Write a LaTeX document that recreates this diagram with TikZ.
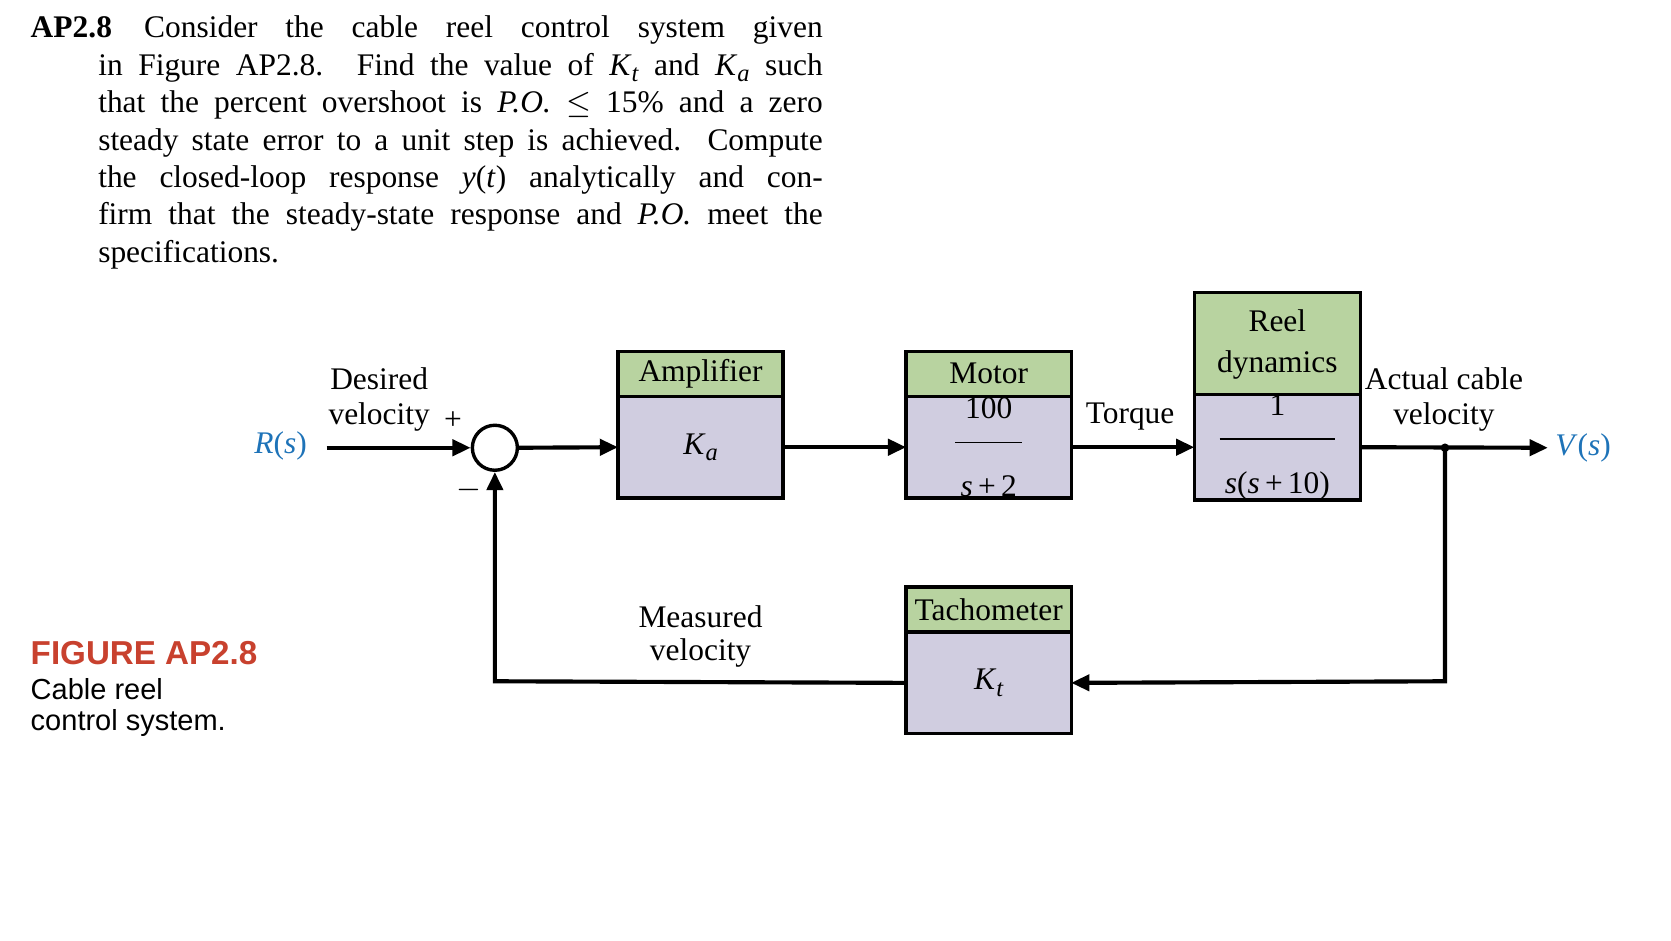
\documentclass[tikz,border=0pt]{standalone}
\usepackage{fontspec}
\setmainfont{Liberation Serif}
\newfontfamily\sansf{Liberation Sans}
\usetikzlibrary{arrows.meta}
\definecolor{hdr}{HTML}{B8D3A0}
\definecolor{bod}{HTML}{D0CDE0}
\definecolor{blu}{HTML}{1E73B8}
\definecolor{redf}{HTML}{C8412E}
\newcommand{\ii}[1]{\textit{#1}}
\newcommand{\sbi}[1]{\raisebox{-0.45ex}{\fontsize{6.5}{7}\selectfont\itshape #1}}
\newcommand{\fr}[2]{$\displaystyle\frac{\rule[-5pt]{0pt}{0pt}\mbox{#1}}{\rule{0pt}{13pt}\mbox{\,#2\,}}$}
\begin{document}
\begin{tikzpicture}[x=0.01cm,y=-0.01cm,
  every node/.style={font=\fontsize{8.35}{9.95}\selectfont},
  hd/.style={draw=black,line width=0.9pt,fill=hdr,minimum width=1.54cm,inner sep=0,outer sep=0},
  bd/.style={draw=black,line width=0.9pt,fill=bod,minimum width=1.54cm,minimum height=0.95cm,inner sep=0,outer sep=0},
  ln/.style={line width=1.1pt},
  ar/.style={ln,-{Triangle[length=0.17cm,width=0.15cm]}},
  lb/.style={align=center,inner sep=0}]
\useasboundingbox (0,0) rectangle (1560,878);
\node[anchor=north west,inner sep=0,text width=7.39cm,align=justify] (para) at (28,14) {%
\noindent\hangindent=0.63cm\hangafter=1
\textbf{AP2.8}\hspace{0.3cm}Consider the cable reel control system given\linebreak
in Figure AP2.8. Find the value of \ii{K}\sbi{t} and \ii{K}\sbi{a} such\linebreak
that the percent overshoot is \ii{P.O.} $\leq$ 15\% and a zero\linebreak
steady state error to a unit step is achieved. Compute\linebreak
the closed-loop response \ii{y}(\ii{t}) analytically and con-\linebreak
firm that the steady-state response and \ii{P.O.} meet the\linebreak
specifications.\par};
% blocks
\node[hd,minimum height=0.42cm] (amph) at (654,349) {Amplifier};
\node[bd] (amp) at (654,417.5) {\ii{K}\sbi{a}};
\node[hd,minimum height=0.42cm] (moth) at (923,349) {Motor};
\node[bd] (mot) at (923,417.5) {\fr{100}{\ii{s}\,+\,2}};
\node[hd,minimum width=1.55cm,minimum height=0.97cm,align=center] (reelh) at (1192.5,321.5) {Reel\\[1pt]dynamics};
\node[bd,minimum width=1.55cm] (reel) at (1192.5,417.5) {\fr{1}{\ii{s}(\ii{s}\,+\,10)}};
\node[hd,minimum height=0.42cm] (tachh) at (923,569) {Tachometer};
\node[bd] (tach) at (923,637.5) {\ii{K}\sbi{t}};
\node[draw,circle,line width=0.9pt,minimum size=0.42cm,inner sep=0] (sum) at (462,418) {};
% coordinates
\coordinate (rin) at (305,418);
\coordinate (br) at (1349,418);
\coordinate (vout) at (1445,418);
\coordinate (fbr) at (1349,636);
\coordinate (fbl) at (462,636);
% connectors
\draw[ar] (rin) -- (sum.west);
\draw[ar] (sum.east) -- (amp.west);
\draw[ar] (amp.east) -- (mot.west);
\draw[ar] (mot.east) -- (reel.west);
\draw[ar] (reel.east) -- (vout);
\fill (br) circle (4);
\draw[ar] (br) -- (fbr) -- (tach.east);
\draw[ar] (tach.west) -- (fbl) -- (sum.south);
% labels
\node[text=blu,lb] (rs) at (262,416) {\ii{R}(\ii{s})};
\node[text=blu,lb] (vs) at (1478,418) {\ii{V}(\ii{s})};
\node[lb] (dv1) at (354,354) {Desired};
\node[lb] (dv2) at (354,389) {velocity};
\node[lb] (plus) at (423,393) {+};
\node[lb] (minus) at (438,457) {$-$};
\node[lb] (tq) at (1055,389) {Torque};
\node[lb] (ac1) at (1348,354) {Actual cable};
\node[lb] (ac2) at (1348,389) {velocity};
\node[lb] (mv1) at (654,576) {Measured};
\node[lb] (mv2) at (654,610) {velocity};
\node[anchor=west,inner sep=0,text=redf,font=\sansf\bfseries\fontsize{8.8}{10}\selectfont] (fig) at (28,610) {FIGURE AP2.8};
\node[anchor=west,inner sep=0,font=\sansf\fontsize{7.7}{9}\selectfont] (cap1) at (28,643) {Cable reel};
\node[anchor=west,inner sep=0,font=\sansf\fontsize{7.7}{9}\selectfont] (cap2) at (28,675) {control system.};
\end{tikzpicture}
\end{document}
